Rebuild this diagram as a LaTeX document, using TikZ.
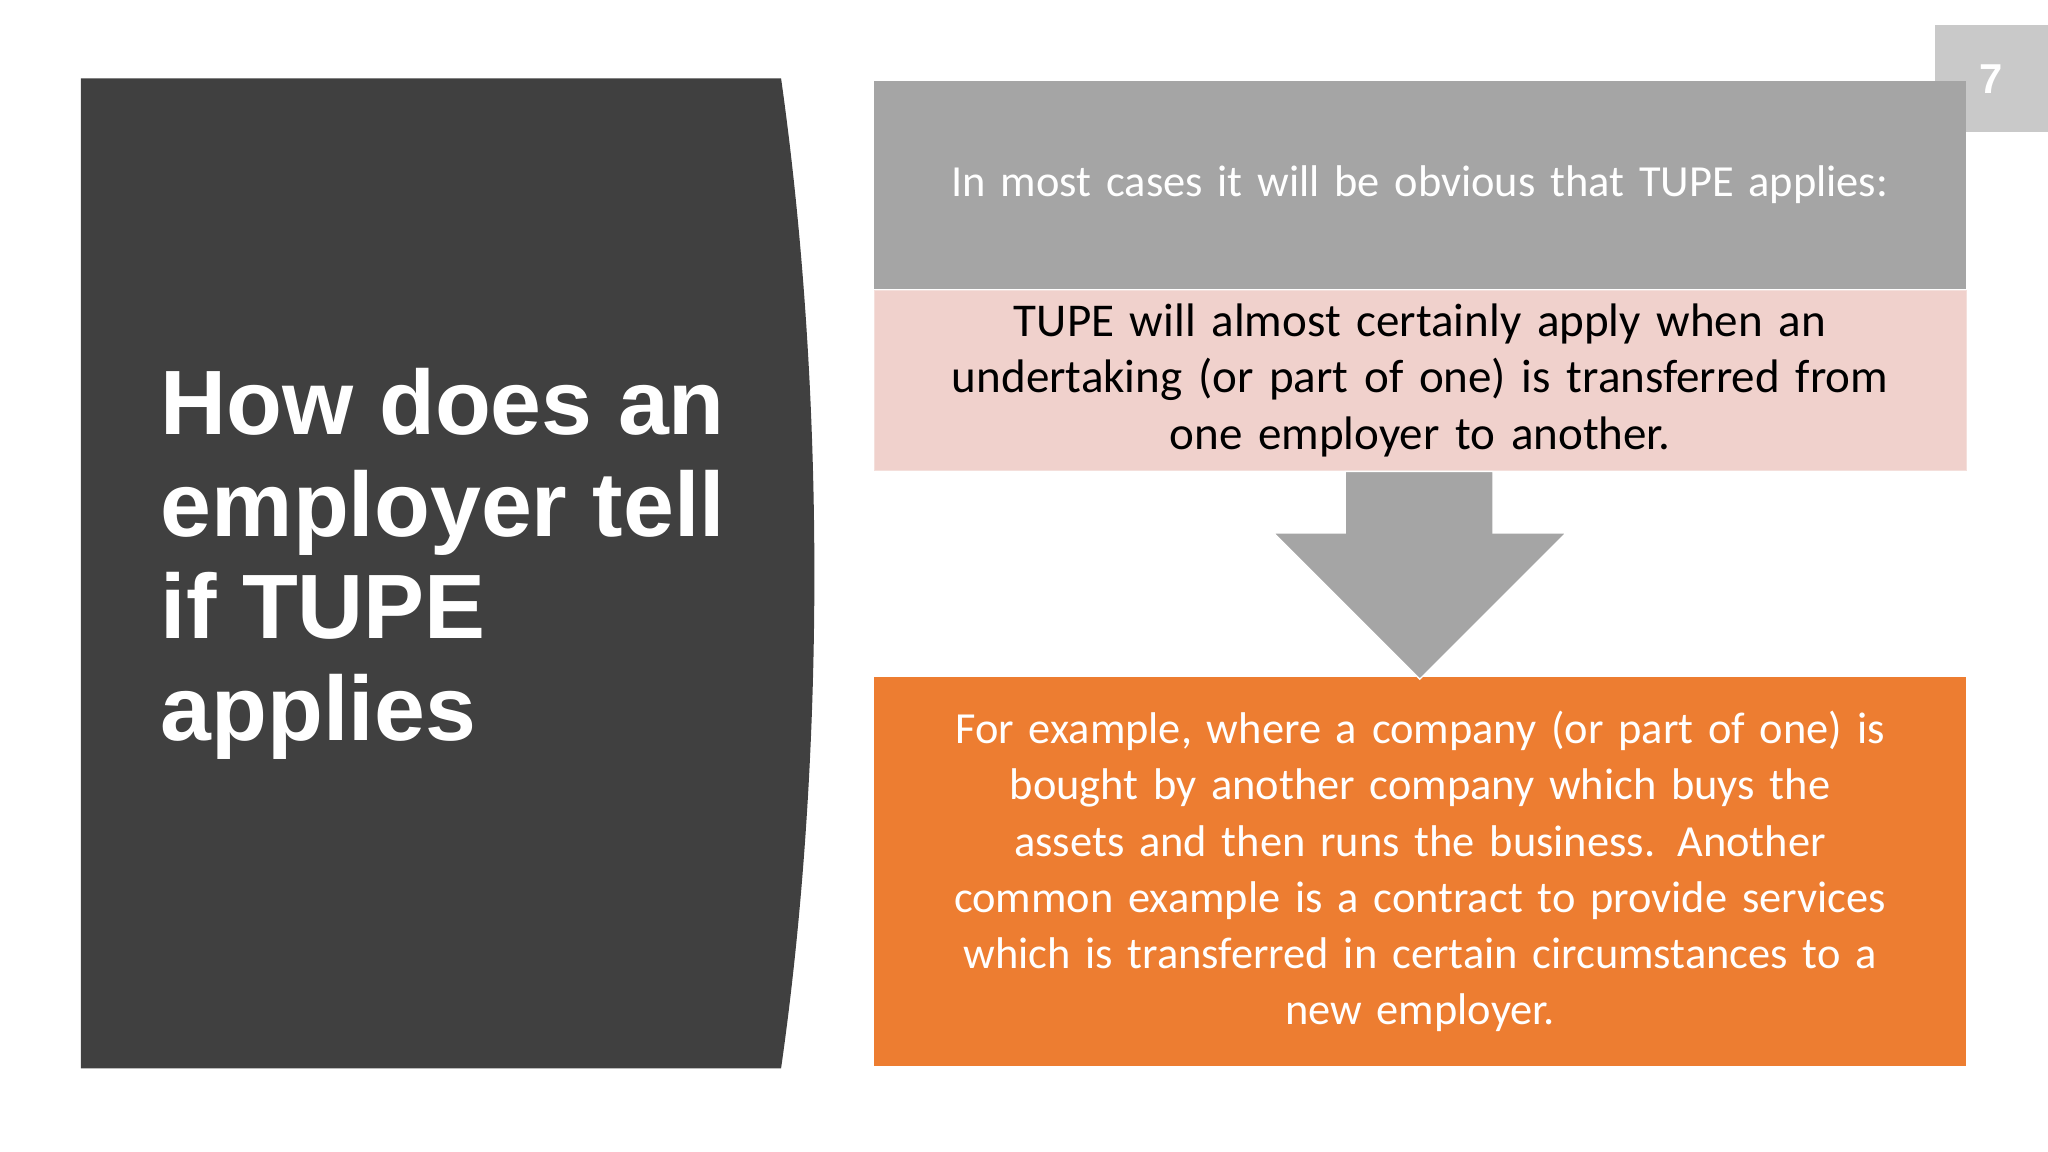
\documentclass[tikz,border=0pt]{standalone}
\usepackage{fontspec}
\setmainfont{Carlito}
\newfontfamily\titlefont{Liberation Sans}
\definecolor{darkpanel}{HTML}{404040}
\definecolor{boxgray}{HTML}{A5A5A5}
\definecolor{boxpink}{HTML}{F0D1CC}
\definecolor{boxorange}{HTML}{ED7D31}
\definecolor{numgray}{HTML}{C9C9C9}
\begin{document}
\begin{tikzpicture}[x=1pt,y=-1pt,
  box/.style={rectangle,inner sep=0pt,minimum width=836pt,anchor=north west,align=center,text width=800pt},
  bodytext/.style={font=\fontsize{34}{43}\selectfont}]
\useasboundingbox[fill=white] (0,0) rectangle (1568,882);
% dark panel
\fill[darkpanel] (62,60) -- (598,60) .. controls (632,300) and (632,580) .. (598,818) -- (62,818) -- cycle;
\node[anchor=north west,text=white,align=left,inner sep=0pt,
  font=\titlefont\bfseries\fontsize{70}{78}\selectfont] (title) at (123,282)
  {How does an\\employer tell\\if TUPE\\applies};
% page number
\node[fill=numgray,minimum width=87pt,minimum height=82pt,anchor=north west,inner sep=0pt,
  text=white,font=\titlefont\bfseries\fontsize{32}{36}\selectfont] (num) at (1481,19) {7};
% boxes
\node[box,fill=boxgray,minimum height=159pt,text=white,bodytext] (top) at (669,62)
  {In most cases it will be obvious that TUPE applies:};
\node[box,fill=boxpink,draw=boxpink!70!white,minimum height=138pt,text=black,
  font=\fontsize{36}{43}\selectfont] (mid) at (669,222)
  {TUPE will almost certainly apply when an\\undertaking (or part of one) is transferred from\\one employer to another.};
\node[box,fill=boxorange,minimum height=298pt,text=white,bodytext] (bot) at (669,518)
  {For example, where a company (or part of one) is\\bought by another company which buys the\\assets and then runs the business. Another\\common example is a contract to provide services\\which is transferred in certain circumstances to a\\new employer.};
% arrow
\coordinate (tip) at (1087,520);
\fill[boxgray,draw=white,line width=1pt] (1030,361) -- (1143,361) -- (1143,408) -- (1199,408) -- (tip) -- (975,408) -- (1030,408) -- cycle;
\end{tikzpicture}
\end{document}
